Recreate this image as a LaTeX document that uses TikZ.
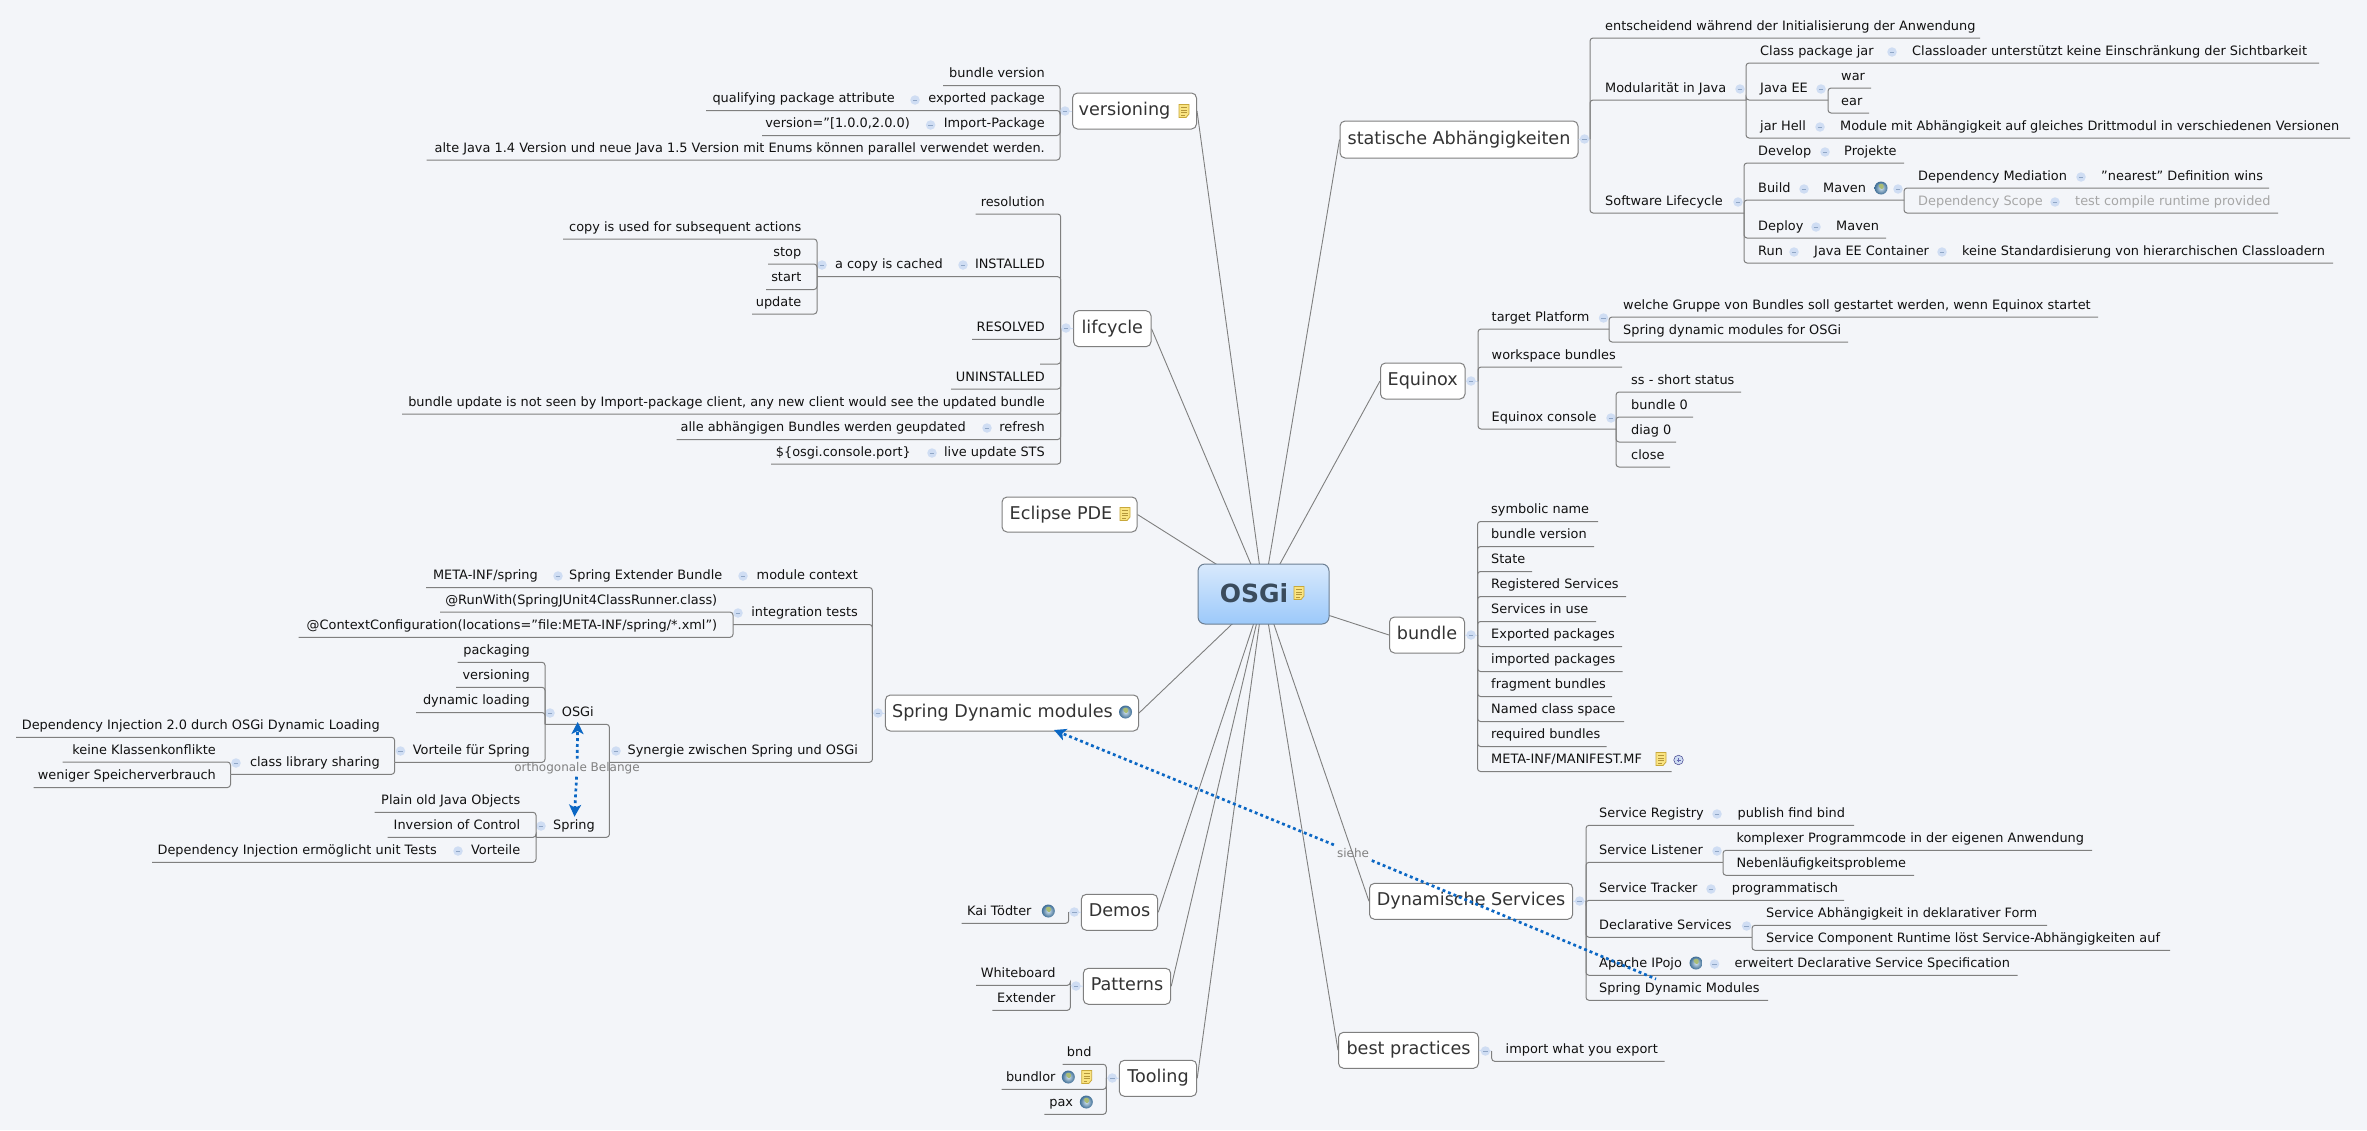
\documentclass[tikz,border=0pt]{standalone}
\usepackage{fontspec}
\setmainfont{DejaVu Sans}
\usetikzlibrary{arrows.meta,backgrounds,calc}
\definecolor{bgc}{HTML}{F3F5F9}
\definecolor{linec}{HTML}{7F7F7F}
\definecolor{txtc}{HTML}{111111}
\definecolor{boxtxt}{HTML}{333333}
\definecolor{dotc}{HTML}{CFDDF3}
\definecolor{minusc}{HTML}{8FA6C6}
\definecolor{relc}{HTML}{0B67C4}
\definecolor{LightTop}{HTML}{D8E9FC}
\definecolor{LightBot}{HTML}{9CC9FA}
\definecolor{RootTxt}{HTML}{3A4B5C}
\definecolor{RootLine}{HTML}{6C7F93}
\definecolor{noteF}{HTML}{FAE482}
\definecolor{noteD}{HTML}{C8A83A}
\definecolor{noteL}{HTML}{B4963A}
\definecolor{globeIn}{HTML}{D5E6F0}
\definecolor{globeOut}{HTML}{3F6E96}
\definecolor{globeG}{HTML}{A9BC74}
\newcommand\leaffont{\fontsize{12.9}{15}\selectfont}
\newcommand\bigfont{\fontsize{17.6}{21}\selectfont}
\newcommand\iconroom[1]{\rule{#1}{0pt}}
\tikzset{
  x=1pt,y=-1pt,
  conn/.style={draw=linec,line width=1pt,rounded corners=3pt},
  trunk/.style={draw=linec,line width=0.9pt},
  stub/.style={draw=dotc,line width=1pt},
  lbl/.style={inner sep=0pt,text=txtc,font=\leaffont},
  graylbl/.style={inner sep=0pt,text=black!35,font=\leaffont},
  box/.style={draw=linec,fill=white,line width=1pt,rounded corners=5pt,inner sep=0pt,text=boxtxt,font=\bigfont,text height=13pt,text depth=4pt},
  rootbox/.style={draw=RootLine,rounded corners=7pt,line width=1pt,inner sep=0pt,top color=LightTop,bottom color=LightBot,text=RootTxt,font=\fontsize{25}{29}\bfseries\selectfont,text height=18pt,text depth=1pt},
  cdot/.style={circle,fill=dotc,draw=none,minimum size=9.5pt,inner sep=0pt,path picture={\draw[minusc,line width=.8pt] ($(path picture bounding box.center)+(-2.2pt,0)$) -- ($(path picture bounding box.center)+(2.2pt,0)$);}},
  pdot/.style={circle,fill=dotc,draw=black!40!blue!50!gray,line width=.5pt,minimum size=9.5pt,inner sep=0pt,path picture={\draw[black!50!blue!60,line width=.7pt] ($(path picture bounding box.center)+(-2pt,0)$) -- ($(path picture bounding box.center)+(2pt,0)$) ($(path picture bounding box.center)+(0,-2pt)$) -- ($(path picture bounding box.center)+(0,2pt)$);}},
  rel/.style={draw=relc,line width=2.7pt,dash pattern=on 2.9pt off 3pt,-{Stealth[length=12pt,width=12pt,inset=3pt]}},
  rellbl/.style={inner sep=3pt,text=black!50,font=\fontsize{12}{14}\selectfont},
}
\newcounter{autoid}
\newcommand\dotm[2]{\stepcounter{autoid}\node[cdot] (dot\arabic{autoid}) at (#1,#2) {};}
\newcommand\dotp[2]{\stepcounter{autoid}\node[pdot] (dot\arabic{autoid}) at (#1,#2) {};}
\newcommand\noteic[2]{\begin{scope}[shift={(#1,#2)}]
  \filldraw[fill=noteF,draw=noteD,line width=.8pt] (-5,-6.5) -- (5,-6.5) -- (5,3) -- (2,6.5) -- (-5,6.5) -- cycle;
  \draw[noteL,line width=.6pt] (-3,-3.5) -- (3,-3.5) (-3,-1) -- (3,-1) (-3,1.5) -- (3,1.5) (-3,4) -- (0.5,4);
\end{scope}}
\newcommand\globeic[2]{\begin{scope}[shift={(#1,#2)}]
  \shade[inner color=globeIn,outer color=globeOut] (0,0) circle[radius=6.5pt];
  \fill[globeG] (-2.5,-3) .. controls (0,-5.5) and (3.5,-4) .. (2.5,-0.5) .. controls (1.5,2) and (-1.5,1.5) .. (-2.5,-3) -- cycle;
\end{scope}}
% text only
\newcommand\txtL[5][lbl]{\node[#1,anchor=base west] (#2) at (#3,{#4-7.8}) {#5};}
\newcommand\txtR[5][lbl]{\node[#1,anchor=base east] (#2) at (#3,{#4-7.8}) {#5};}
% row: parent, name, text x, line y, end x, text
\newcommand\rowL[6][lbl]{\def\tmpstyle{#1}\coordinate (#3-e) at (#6,#5);\draw[conn] (#2) |- (#3-e);\rowLfin{#3}{#4}{#5}}
\newcommand\rowLfin[4]{\node[\tmpstyle,anchor=base west] (#1) at (#2,{#3-7.8}) {#4};}
\newcommand\rowR[6][lbl]{\def\tmpstyle{#1}\coordinate (#3-e) at (#6,#5);\draw[conn] (#2) |- (#3-e);\rowRfin{#3}{#4}{#5}}
\newcommand\rowRfin[4]{\node[\tmpstyle,anchor=base east] (#1) at (#2,{#3-7.8}) {#4};}
\newcommand\Bx[7][box]{\node[#1,minimum width={(#5-#3)*1pt},minimum height={(#6-#4)*1pt}] (#2) at ({(#3+#5)/2},{(#4+#6)/2}) {#7};}
\begin{document}
\begin{tikzpicture}
\begin{scope}[on background layer]
\fill[bgc] (0,0) rectangle (2367,1130);
\end{scope}
\useasboundingbox (0,0) rectangle (2367,1130);

% main boxes
\Bx[rootbox]{osgi}{1198}{564}{1329}{624}{OSGi\iconroom{19pt}}
\Bx{statische}{1340}{121}{1578}{158}{statische Abhängigkeiten}
\Bx{equinox}{1380.5}{363}{1465}{399}{Equinox}
\Bx{bundle}{1389.5}{617}{1464.5}{653}{bundle}
\Bx{dynserv}{1369.5}{883.3}{1572.7}{919.3}{Dynamische Services}
\Bx{best}{1338.5}{1032.3}{1478.5}{1068.3}{best practices}
\Bx{versioning}{1072.5}{93}{1196.5}{129}{versioning\iconroom{20pt}}
\Bx{lifcycle}{1073.5}{310.7}{1151}{346.7}{lifcycle}
\Bx{eclipse}{1002}{497}{1137}{532}{Eclipse PDE\iconroom{17pt}}
\Bx{sdm}{885.4}{695}{1138.5}{731}{Spring Dynamic modules\iconroom{19pt}}
\Bx{demos}{1081.3}{894.3}{1157.7}{930.3}{Demos}
\Bx{patterns}{1083.3}{968.3}{1170.7}{1004.3}{Patterns}
\Bx{tooling}{1119.3}{1060.3}{1196.7}{1096.3}{Tooling}
\noteic{1299}{593}
\noteic{1184}{111}
\noteic{1125}{514}
\globeic{1125.5}{712}

\begin{scope}[on background layer]
\foreach \n/\a in {statische/west,equinox/west,bundle/west,dynserv/west,best/west,versioning/east,lifcycle/east,eclipse/east,sdm/east,demos/east,patterns/east,tooling/east}
  \draw[trunk] (osgi.center) -- (\n.\a);
\end{scope}

% ---------- statische Abhaengigkeiten
\coordinate (Pstat) at (1590,139);
\draw[stub] (statische.east) -- (Pstat);
\rowL{Pstat}{entsch}{1605}{38}{1980}{entscheidend während der Initialisierung der Anwendung}
\rowL{Pstat}{modul}{1605}{100}{1746}{Modularität in Java}
\rowL{Pstat}{swlife}{1605}{213}{1744}{Software Lifecycle}
\dotm{1584.5}{139}\dotm{1740}{89}\dotm{1738}{202}
\coordinate (Pmod) at (1746,100);
\rowL{Pmod}{classl}{1760}{63}{2319}{Class package jar}
\txtL{classb}{1912}{63}{Classloader unterstützt keine Einschränkung der Sichtbarkeit}
\dotm{1892}{52}
\rowL{Pmod}{javaee}{1760}{100}{1828}{Java EE}
\dotm{1821}{89}
\coordinate (Pee) at (1828,100);
\rowL{Pee}{war}{1841}{88}{1871}{war}
\rowL{Pee}{ear}{1841}{113}{1869}{ear}
\rowL{Pmod}{jarhell}{1760}{138}{2350}{jar Hell}
\txtL{jarb}{1840}{138}{Module mit Abhängigkeit auf gleiches Drittmodul in verschiedenen Versionen}
\dotm{1820}{127}
\coordinate (Psw) at (1744,213);
\rowL{Psw}{develop}{1758}{163}{1904}{Develop}
\txtL{projekte}{1844}{163}{Projekte}
\dotm{1825}{152}
\rowL{Psw}{build}{1758}{200}{1904}{Build}
\txtL{maven}{1823}{200}{Maven}
\dotm{1804}{189}\globeic{1881}{188}\dotm{1898}{189}
\coordinate (Pmv) at (1904,200);
\rowL{Pmv}{depmed}{1918}{188}{2269}{Dependency Mediation}
\txtL{nearest}{2101}{188}{"nearest" Definition wins}
\dotm{2081}{177}
\rowL[graylbl]{Pmv}{depsc}{1918}{213}{2278}{Dependency Scope}
\txtL[graylbl]{testc}{2075}{213}{test compile runtime provided}
\dotm{2055}{202}
\rowL{Psw}{deploy}{1758}{238}{1886}{Deploy}
\txtL{maven2}{1836}{238}{Maven}
\dotm{1816}{227}
\rowL{Psw}{run}{1758}{263}{2333}{Run}
\txtL{jeec}{1814}{263}{Java EE Container}
\txtL{keine}{1962}{263}{keine Standardisierung von hierarchischen Classloadern}
\dotm{1794}{252}\dotm{1942}{252}

% ---------- Equinox
\coordinate (Peq) at (1478,381);
\draw[stub] (equinox.east) -- (Peq);
\rowL{Peq}{target}{1491.5}{329}{1609}{target Platform}
\rowL{Peq}{wsb}{1491.5}{367}{1622}{workspace bundles}
\rowL{Peq}{eqc}{1491.5}{429}{1616}{Equinox console}
\dotm{1471}{381}\dotm{1603.5}{318}\dotm{1611}{418}
\coordinate (Ptg) at (1609,329);
\rowL{Ptg}{welche}{1623}{317}{2098}{welche Gruppe von Bundles soll gestartet werden, wenn Equinox startet}
\rowL{Ptg}{sdmo}{1623}{342}{1848}{Spring dynamic modules for OSGi}
\coordinate (Pec) at (1616,429);
\rowL{Pec}{ss}{1631}{392}{1741}{ss - short status}
\rowL{Pec}{bun0}{1631}{417}{1693}{bundle 0}
\rowL{Pec}{diag0}{1631}{442}{1676}{diag 0}
\rowL{Pec}{closec}{1631}{467}{1670}{close}

% ---------- bundle
\coordinate (Pbu) at (1477.5,635);
\draw[stub] (bundle.east) -- (Pbu);
\rowL{Pbu}{b1}{1491}{521.5}{1598}{symbolic name}
\rowL{Pbu}{b2}{1491}{546.5}{1594}{bundle version}
\rowL{Pbu}{b3}{1491}{571.5}{1532}{State}
\rowL{Pbu}{b4}{1491}{596.5}{1626}{Registered Services}
\rowL{Pbu}{b5}{1491}{621.5}{1596}{Services in use}
\rowL{Pbu}{b6}{1491}{646.5}{1622}{Exported packages}
\rowL{Pbu}{b7}{1491}{671.5}{1622.5}{imported packages}
\rowL{Pbu}{b8}{1491}{696.5}{1612}{fragment bundles}
\rowL{Pbu}{b9}{1491}{721.5}{1624}{Named class space}
\rowL{Pbu}{b10}{1491}{746.5}{1606.5}{required bundles}
\rowL{Pbu}{b11}{1491}{771.5}{1671.5}{META-INF/MANIFEST.MF}
\dotm{1471}{635}\noteic{1661}{759}\dotp{1678.5}{760}

% ---------- Dynamische Services
\coordinate (Pdy) at (1586,901);
\draw[stub] (dynserv.east) -- (Pdy);
\rowL{Pdy}{reg}{1599}{825.3}{1854}{Service Registry}
\txtL{pfb}{1737.4}{825.3}{publish find bind}
\dotm{1717}{814}
\rowL{Pdy}{lis}{1599}{862.3}{1723}{Service Listener}
\dotm{1717}{851}
\coordinate (Pli) at (1723,862.3);
\rowL{Pli}{kompl}{1736.3}{850.3}{2092}{komplexer Programmcode in der eigenen Anwendung}
\rowL{Pli}{neben}{1736.3}{875.3}{1914}{Nebenläufigkeitsprobleme}
\rowL{Pdy}{trk}{1599}{900.3}{1844}{Service Tracker}
\txtL{progr}{1731.7}{900.3}{programmatisch}
\dotm{1711}{889}
\rowL{Pdy}{decl}{1599}{937.3}{1752}{Declarative Services}
\dotm{1746.6}{926}
\coordinate (Pde) at (1752,937.3);
\rowL{Pde}{abh}{1766}{925.3}{2047}{Service Abhängigkeit in deklarativer Form}
\rowL{Pde}{comp}{1766}{950.3}{2170}{Service Component Runtime löst Service-Abhängigkeiten auf}
\rowL{Pdy}{ipojo}{1599}{975.3}{2017.6}{Apache IPojo}
\txtL{erw}{1734.5}{975.3}{erweitert Declarative Service Specification}
\globeic{1696}{963}\dotm{1714.5}{964}
\rowL{Pdy}{sdmod}{1599}{1000.3}{1768}{Spring Dynamic Modules}
\dotm{1579.6}{901}

% ---------- best practices
\coordinate (Pbe) at (1491.7,1051);
\draw[stub] (best.east) -- (Pbe);
\rowL{Pbe}{impw}{1505.5}{1061.3}{1664.5}{import what you export}
\dotm{1485.4}{1051}

% ---------- versioning
\coordinate (Pve) at (1060,111);
\draw[stub] (versioning.west) -- (Pve);
\rowR{Pve}{bv}{1045}{85.5}{943}{bundle version}
\rowR{Pve}{expk}{1045}{110.5}{706}{exported package}
\txtR{qual}{895}{110.5}{qualifying package attribute}
\dotm{915}{100}
\rowR{Pve}{imp}{1045}{135.5}{762}{Import-Package}
\txtR{vers}{910}{135.5}{version="[1.0.0,2.0.0)}
\dotm{930.6}{125}
\rowR{Pve}{alte}{1045}{160}{426.5}{alte Java 1.4 Version und neue Java 1.5 Version mit Enums können parallel verwendet werden.}
\dotm{1065}{111}

% ---------- lifcycle
\coordinate (Plf) at (1060.7,328);
\draw[stub] (lifcycle.west) -- (Plf);
\rowR{Plf}{resol}{1045}{214}{975.5}{resolution}
\rowR{Plf}{inst}{1045}{276.7}{817}{INSTALLED}
\txtR{cached}{943}{276.7}{a copy is cached}
\dotm{963}{265}\dotm{822}{265}
\coordinate (Pca) at (817,276.7);
\rowR{Pca}{copyu}{801.5}{239}{563}{copy is used for subsequent actions}
\rowR{Pca}{stopc}{801.5}{264}{768}{stop}
\rowR{Pca}{startc}{801.5}{289.5}{766}{start}
\rowR{Pca}{updatec}{801.5}{314}{752}{update}
\rowR{Plf}{resv}{1045}{339.3}{972}{RESOLVED}
\coordinate (emptyrow) at (1040,364);
\draw[conn] (Plf) |- (emptyrow);
\rowR{Plf}{uninst}{1045}{389}{951}{UNINSTALLED}
\rowR{Plf}{bupd}{1045}{414}{402}{bundle update is not seen by Import-package client, any new client would see the updated bundle}
\rowR{Plf}{refr}{1045}{439.5}{676.5}{refresh}
\txtR{alleb}{966}{439.5}{alle abhängigen Bundles werden geupdated}
\dotm{987}{428}
\rowR{Plf}{live}{1045}{464}{771}{live update STS}
\txtR{portc}{911}{464}{\$\{osgi.console.port\}}
\dotm{932}{453}
\dotm{1066}{328}

% ---------- Spring Dynamic modules
\coordinate (Psd) at (872.4,713);
\draw[stub] (sdm.west) -- (Psd);
\rowR{Psd}{modc}{858}{587.5}{426}{module context}
\txtR{extb}{722.5}{587.5}{Spring Extender Bundle}
\txtR{metas}{538}{587.5}{META-INF/spring}
\dotm{743}{576}\dotm{558}{576}
\rowR{Psd}{integ}{858}{624.5}{733}{integration tests}
\dotm{738}{613}
\coordinate (Pin) at (733,624.5);
\rowR{Pin}{runw}{717.4}{612}{440}{@RunWith(SpringJUnit4ClassRunner.class)}
\rowR{Pin}{ctxc}{717.4}{637.3}{298.5}{@ContextConfiguration(locations="file:META-INF/spring/*.xml")}
\rowR{Psd}{syn}{858}{762.3}{609.4}{Synergie zwischen Spring und OSGi}
\dotm{616}{751}
\dotm{878}{713}
\coordinate (Psy) at (609.4,762.3);
\rowR{Psy}{osgisub}{594}{724.3}{545}{OSGi}
\dotm{550}{713}
\coordinate (Pos) at (545,724.3);
\rowR{Pos}{pack}{530}{662.3}{457.5}{packaging}
\rowR{Pos}{versi}{530}{687.3}{456}{versioning}
\rowR{Pos}{dynl}{530}{712.5}{416}{dynamic loading}
\rowR{Pos}{vfs}{530}{762.3}{394.6}{Vorteile für Spring}
\dotm{400.5}{751}
\coordinate (Pvf) at (394.6,762.3);
\rowR{Pvf}{di2}{380}{737.3}{16}{Dependency Injection 2.0 durch OSGi Dynamic Loading}
\rowR{Pvf}{cls}{380}{774.3}{230.5}{class library sharing}
\dotm{236}{763}
\coordinate (Pcl) at (230.5,774.3);
\rowR{Pcl}{keinek}{216}{762}{62.5}{keine Klassenkonflikte}
\rowR{Pcl}{wenig}{216}{787.5}{33.6}{weniger Speicherverbrauch}
\rowR{Psy}{springsub}{595}{837.3}{536}{Spring}
\dotm{541}{826}
\coordinate (Psp) at (536,837.3);
\rowR{Psp}{plain}{520.4}{812.3}{374.5}{Plain old Java Objects}
\rowR{Psp}{inv}{520.4}{837.3}{387.5}{Inversion of Control}
\rowR{Psp}{vort}{520.4}{862.3}{152}{Vorteile}
\txtR{dium}{437}{862.3}{Dependency Injection ermöglicht unit Tests}
\dotm{458}{851}

% ---------- Demos
\coordinate (Pdm) at (1068.7,912);
\draw[stub] (demos.west) -- (Pdm);
\rowR{Pdm}{kai}{1031.7}{923.3}{961.7}{Kai Tödter}
\globeic{1048.3}{911}\dotm{1074.3}{912}
% ---------- Patterns
\coordinate (Ppa) at (1070.3,985.3);
\draw[stub] (patterns.west) -- (Ppa);
\rowR{Ppa}{white}{1055.7}{985.3}{976}{Whiteboard}
\rowR{Ppa}{extnd}{1055.7}{1010.3}{992.3}{Extender}
\dotm{1076}{986}
% ---------- Tooling
\coordinate (Pto) at (1106.3,1078);
\draw[stub] (tooling.west) -- (Pto);
\rowR{Pto}{bnd}{1091.7}{1064.3}{1062.7}{bnd}
\rowR{Pto}{bdlr}{1055.7}{1089.3}{1001.7}{bundlor}
\rowR{Pto}{pax}{1073.3}{1114.3}{1044.3}{pax}
\globeic{1068.3}{1077}\noteic{1086.7}{1077}\globeic{1086.3}{1102}\dotm{1112.3}{1078}

% ---------- relationships
\node[rellbl] (orth) at (577,767.7) {orthogonale Belange};
\coordinate (relos) at (577.7,722);
\coordinate (relsp) at (574.5,816.7);
\draw[rel] (orth) -- (relos);
\draw[rel] (orth) -- (relsp);
\node[rellbl] (siehe) at (1353,852.7) {siehe};
\coordinate (relsd) at (1054,730);
\coordinate (relds) at (1656,979);
\draw[rel] (siehe) -- (relsd);
\draw[rel,-] (siehe) -- (relds);
\end{tikzpicture}
\end{document}
